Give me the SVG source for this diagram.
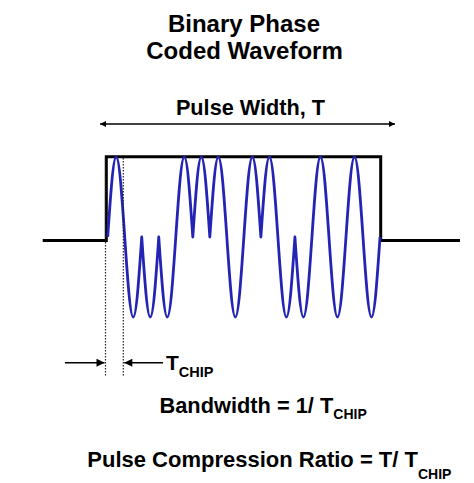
<svg xmlns="http://www.w3.org/2000/svg" width="474" height="483" viewBox="0 0 474 483">
<defs>
<style>
.t{font-family:"Liberation Sans",Arial,sans-serif;font-weight:bold;fill:#000}
.pulse{fill:none;stroke:#000;stroke-width:3}
.wave{fill:none;stroke:#2424b4;stroke-width:2.8;stroke-linejoin:round}
.dot{fill:none;stroke:#222;stroke-width:1.2;stroke-dasharray:1.5 1.5}
.arr{fill:none;stroke:#000;stroke-width:1.5}
</style>
<marker id="ah" viewBox="0 0 10 10" refX="10" refY="5" markerWidth="6" markerHeight="6" orient="auto-start-reverse" markerUnits="userSpaceOnUse">
<path d="M0,0 L10,5 L0,10 Z" fill="#000"/>
</marker>
<marker id="ah2" viewBox="0 0 10 10" refX="10" refY="5" markerWidth="9" markerHeight="8" orient="auto" markerUnits="userSpaceOnUse">
<path d="M0,0 L10,5 L0,10 Z" fill="#000"/>
</marker>
</defs>
<rect width="474" height="483" fill="#fff"/>
<g id="title">
<text class="t" x="244" y="31.5" font-size="24" text-anchor="middle">Binary Phase</text>
<text class="t" x="244.5" y="59" font-size="24" text-anchor="middle">Coded Waveform</text>
</g>
<g id="pulse-width-label">
<text class="t" x="250.5" y="115" font-size="21.7" text-anchor="middle">Pulse Width, T</text>
</g>
<g id="pulse">
<path class="pulse" d="M42.7,240.5 H106.3 V156.7 H380.7 V240.5 H460"/>
</g>
<g id="waveform">
<path class="wave" d="M107.7,237
c2.78,-41 5.43,-80 8.51,-80 c3.08,0 5.73,39 8.51,80
c2.78,41 5.43,80 8.51,80 c3.08,0 5.73,-39 8.51,-80
c2.78,41 5.43,80 8.51,80 c3.08,0 5.73,-39 8.51,-80
c2.78,41 5.43,80 8.51,80 c3.08,0 5.73,-39 8.51,-80
c2.78,-41 5.43,-80 8.51,-80 c3.08,0 5.73,39 8.51,80
c2.78,-41 5.43,-80 8.51,-80 c3.08,0 5.73,39 8.51,80
c2.78,-41 5.43,-80 8.51,-80 c3.08,0 5.73,39 8.51,80
c2.78,41 5.43,80 8.51,80 c3.08,0 5.73,-39 8.51,-80
c2.78,-41 5.43,-80 8.51,-80 c3.08,0 5.73,39 8.51,80
c2.78,-41 5.43,-80 8.51,-80 c3.08,0 5.73,39 8.51,80
c2.78,41 5.43,80 8.51,80 c3.08,0 5.73,-39 8.51,-80
c2.78,41 5.43,80 8.51,80 c3.08,0 5.73,-39 8.51,-80
c2.78,-41 5.43,-80 8.51,-80 c3.08,0 5.73,39 8.51,80
c2.78,41 5.43,80 8.51,80 c3.08,0 5.73,-39 8.51,-80
c2.78,-41 5.43,-80 8.51,-80 c3.08,0 5.73,39 8.51,80
c2.78,41 5.43,80 8.51,80 c3.08,0 5.73,-39 8.51,-80"/>
</g>
<g id="chip-markers">
<line class="dot" x1="105.5" y1="158" x2="105.5" y2="377"/>
<line class="dot" x1="123.3" y1="158" x2="123.3" y2="377"/>
</g>
<g id="connectors">
<line class="arr" x1="100" y1="124" x2="395" y2="124" marker-start="url(#ah)" marker-end="url(#ah)"/>
<line class="arr" x1="65" y1="362.7" x2="104.5" y2="362.7" marker-end="url(#ah2)"/>
<line class="arr" x1="163" y1="362.7" x2="124.3" y2="362.7" marker-end="url(#ah2)"/>
</g>
<g id="tchip-label">
<text class="t" x="166" y="370" font-size="21">T<tspan font-size="14.5" dy="7">CHIP</tspan></text>
</g>
<g id="bandwidth">
<text class="t" x="159.5" y="413" font-size="21.8">Bandwidth = 1/ T<tspan font-size="14" dy="6">CHIP</tspan></text>
</g>
<g id="compression-ratio">
<text class="t" x="87.3" y="467.3" font-size="22">Pulse Compression Ratio = T/ T<tspan font-size="14" dy="12">CHIP</tspan></text>
</g>
</svg>
